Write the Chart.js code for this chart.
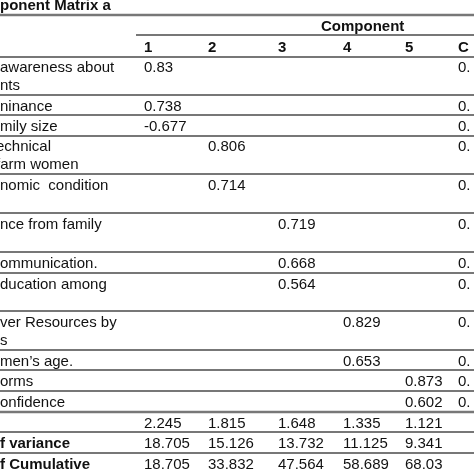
<!DOCTYPE html>
<html><head><meta charset="utf-8">
<script src="https://cdn.jsdelivr.net/npm/chart.js@4"></script>
<style>html,body{margin:0;padding:0;background:#fff}canvas{display:block}</style>
</head><body>
<canvas id="c" width="474" height="474"></canvas>
<script>
const title = "ponent Matrix a";
const colHeads = ["1","2","3","4","5","C"];
const rowLabels = [["awareness about","nts"],["ninance"],["mily size"],["echnical","farm women"],["nomic  condition"],["nce from family"],["ommunication."],["ducation among"],["ver Resources by","s"],["men\u2019s age."],["orms"],["onfidence"]];
const rowComp = [1,1,1,2,2,3,3,3,4,4,5,5];
const rowLoad = ["0.83","0.738","-0.677","0.806","0.714","0.719","0.668","0.564","0.829","0.653","0.873","0.602"];
const eigen = ["2.245","1.815","1.648","1.335","1.121"];
const variance = ["18.705","15.126","13.732","11.125","9.341"];
const cumulative = ["18.705","33.832","47.564","58.689","68.03"];
const footLabels = ["","f variance","f Cumulative"];

// layout (pixel-like units on the hidden scales)
const colX = [144,208,278,343,405,458];
const rowY = [68,107,127,147,186,225,264,285,323,362,382,403];
const rowLines = [95,115,136,174,213,252,273,311,350,370,391];
const footY = [424,444,465];

const font = (b) => (b ? "bold " : "") + "15px 'Liberation Sans', Arial, sans-serif";

const tablePlugin = {
  id: "table",
  afterDraw(chart) {
    const ctx = chart.ctx, xs = chart.scales.x, ys = chart.scales.y;
    const X = v => xs.getPixelForValue(v), Y = v => ys.getPixelForValue(v);
    ctx.save();
    ctx.textBaseline = "middle";
    ctx.fillStyle = "#111";
    const hline = (y, x0, x1, w) => {
      ctx.strokeStyle = "#777"; ctx.lineWidth = w;
      ctx.beginPath(); ctx.moveTo(X(x0), Y(y)); ctx.lineTo(X(x1), Y(y)); ctx.stroke();
    };
    ctx.font = font(true);
    ctx.fillText(title, X(0), Y(6));
    hline(15, 0, 474, 2.5);
    ctx.fillText("Component", X(321), Y(27));
    hline(35, 136, 474, 2);
    colHeads.forEach((h, i) => ctx.fillText(h, X(colX[i]), Y(48)));
    hline(57, 0, 474, 2);
    ctx.font = font(false);
    rowLabels.forEach((lines, r) => {
      lines.forEach((t, k) => ctx.fillText(t, X(t === "echnical" || t === "farm women" ? -4 : 0), Y(rowY[r] + k * 18)));
      ctx.fillText("0.", X(colX[5]), Y(rowY[r]));
    });
    rowLines.forEach(y => hline(y, 0, 474, 2));
    hline(412, 0, 474, 2.5);
    hline(432, 0, 474, 2);
    hline(453, 0, 474, 2);
    ctx.font = font(true);
    footLabels.forEach((t, i) => ctx.fillText(t, X(0), Y(footY[i])));
    ctx.font = font(false);
    [eigen, variance, cumulative].forEach((arr, i) =>
      arr.forEach((v, c) => ctx.fillText(v, X(colX[c]), Y(footY[i]))));
    ctx.restore();
  }
};

new Chart(document.getElementById("c"), {
  type: "scatter",
  data: {
    datasets: [{
      data: rowLoad.map((v, r) => ({ x: colX[rowComp[r] - 1], y: rowY[r], label: v })),
      pointRadius: 0
    }]
  },
  options: {
    responsive: false, animation: false,
    layout: { padding: 0 },
    plugins: { legend: { display: false }, tooltip: { enabled: false } },
    scales: {
      x: { type: "linear", min: 0, max: 474, display: false },
      y: { type: "linear", min: 0, max: 474, reverse: true, display: false }
    }
  },
  plugins: [tablePlugin, {
    id: "cells",
    afterDatasetsDraw(chart) {
      const ctx = chart.ctx;
      ctx.save();
      ctx.font = font(false); ctx.fillStyle = "#111"; ctx.textBaseline = "middle";
      chart.getDatasetMeta(0).data.forEach((pt, i) => {
        ctx.fillText(chart.data.datasets[0].data[i].label, pt.x, pt.y);
      });
      ctx.restore();
    }
  }]
});
</script>
</body></html>
